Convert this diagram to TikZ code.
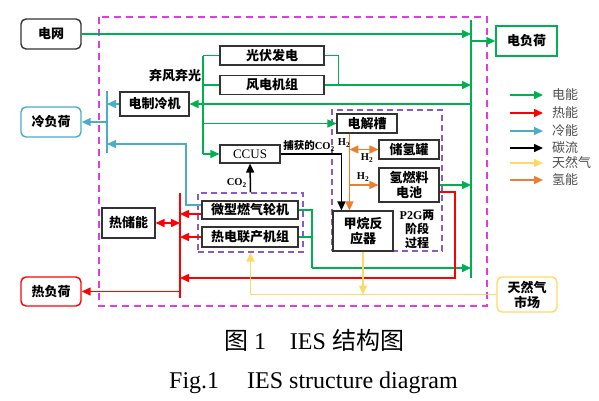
\documentclass[tikz,border=0pt]{standalone}
\usepackage{fontspec}
\setmainfont{Liberation Serif}
\newfontfamily\cjk{Noto Sans CJK SC}
\usetikzlibrary{arrows.meta,calc}
\definecolor{elgreen}{RGB}{0,176,80}
\definecolor{coldblue}{RGB}{75,172,198}
\definecolor{gasyellow}{RGB}{255,217,102}
\definecolor{h2orange}{RGB}{237,125,49}
\definecolor{outerpink}{RGB}{225,60,225}
\definecolor{grppurple}{RGB}{140,90,200}
\tikzset{
	box/.style={draw=black!80, line width=1.1pt, inner sep=1pt, align=center, font=\cjk\bfseries\fontsize{13}{15}\selectfont},
	load/.style={box, rounded corners=5pt, line width=1.4pt},
	grp/.style={draw=grppurple, dashed, dash pattern=on 6pt off 4pt, line width=1.1pt, inner sep=0pt},
	arw/.style={-{Triangle[length=9pt,width=8pt]}},
	arwb/.style={{Triangle[length=9pt,width=8pt]}-{Triangle[length=9pt,width=8pt]}},
	elf/.style={draw=elgreen, line width=1.5pt},
	hf/.style={draw=red, line width=1.5pt},
	cf/.style={draw=coldblue, line width=1.5pt},
	cof/.style={draw=black, line width=1.5pt},
	gf/.style={draw=gasyellow, line width=1.5pt},
	h2f/.style={draw=h2orange, line width=1.5pt},
	lbl/.style={font=\bfseries\fontsize{10.5}{11}\selectfont, inner sep=1pt}
}
\begin{document}
\begin{tikzpicture}[x=1pt, y=-1pt]
	\useasboundingbox (0,0) rectangle (599,400);
	\draw[draw=outerpink, dashed, dash pattern=on 7pt off 5pt, line width=1.3pt] (99,17) rectangle (487,306);
	\node[grp, minimum width=110, minimum height=141] (p2g) at (387,180.5) {};
	\node[grp, minimum width=105, minimum height=59] (gt) at (250.5,222.5) {};

	\node[load, minimum width=60, minimum height=30] (grid) at (51,34) {电网};
	\node[box, draw=elgreen, line width=1.4pt, minimum width=61, minimum height=30] (eload) at (526.5,41) {电负荷};
	\node[load, draw=coldblue, minimum width=60, minimum height=30] (cload) at (51,122) {冷负荷};
	\node[load, draw=red, minimum width=60, minimum height=29] (hload) at (51,291.5) {热负荷};
	\node[load, draw=gasyellow, minimum width=60, minimum height=35] (gasmkt) at (527,294.5) {天然气\\市场};

	\node[box, minimum width=104, minimum height=19] (pv) at (272,55.5) {光伏发电};
	\node[box, minimum width=104, minimum height=19] (wind) at (272,85) {风电机组};
	\node[box, minimum width=69, minimum height=24] (ec) at (154.5,104) {电制冷机};
	\node[box, font=\fontsize{13}{15}\selectfont, minimum width=60, minimum height=18] (ccus) at (250,154) {CCUS};
	\node[box, minimum width=60, minimum height=19] (elec) at (367,123.5) {电解槽};
	\node[box, minimum width=60, minimum height=19] (tank) at (409,149.5) {储氢罐};
	\node[box, minimum width=60, minimum height=34] (fc) at (409,185) {氢燃料\\电池};
	\node[box, minimum width=60, minimum height=40] (meth) at (363,231) {甲烷反\\应器};
	\node[box, minimum width=96, minimum height=18] (mt) at (250,210) {微型燃气轮机};
	\node[box, minimum width=96, minimum height=20] (chp) at (250,237) {热电联产机组};
	\node[box, minimum width=53, minimum height=30] (hs) at (128.5,223) {热储能};

	\node[font=\cjk\bfseries\fontsize{13}{15}\selectfont] (curt) at (175,75) {弃风弃光};
	\node[font=\cjk\bfseries\fontsize{12}{14}\selectfont, align=center] (p2gtxt) at (417,229) {{\rmfamily P2G}两\\阶段\\过程};

	\coordinate (rbt) at (471,20);
	\coordinate (rbb) at (471,278);
	\coordinate (lbt) at (203,55.5);
	\coordinate (lbb) at (203,154);
	\coordinate (cbt) at (107,91);
	\coordinate (cbb) at (107,153);
	\coordinate (hbt) at (180,193);
	\coordinate (hbb) at (180,298);
	\draw[elf] (rbt) -- (rbb);
	\draw[elf] (lbt) -- (lbb);
	\draw[cf] (cbt) -- (cbb);
	\draw[hf] (hbt) -- (hbb);

	\draw[elf, arw] (grid.east) -- (grid.east -| rbt);
	\draw[elf, arw] (eload.west -| rbt) -- (eload.west);
	\draw[elf] (pv.east) -- ++(14,0) |- (wind.east);
	\draw[elf, arw] (wind.east) -- (wind.east -| rbt);
	\draw[elf] (pv.west) -- (lbt);
	\draw[elf] (wind.west) -- (wind.west -| lbt);
	\draw[elf, arw] (ec.east -| rbt) -- (ec.east);
	\draw[elf, arw] (elec.west -| lbt) -- (elec.west);
	\draw[elf, arw] (lbb) -- (ccus.west);
	\coordinate (gj) at (312,268);
	\draw[elf] (mt.east) -| (gj);
	\draw[elf] (chp.east) -- (chp.east -| gj);
	\draw[elf, arw] (gj) -- (gj -| rbt);
	\draw[elf, arw] (fc.east) -- (fc.east -| rbt);

	\draw[hf, arw] ($(mt.west)+(0,4)$) coordinate (mtr) -- (mtr -| hbt);
	\draw[hf, arw] (chp.west) -- (chp.west -| hbt);
	\draw[hf, arwb] (hs.east) -- (hs.east -| hbt);
	\coordinate (hj) at (455,278);
	\draw[hf, arw] ($(fc.east)+(0,7)$) -| (hj) -- (hj -| hbt);
	\draw[hf, arw] (hload.east -| hbt) -- (hload.east);

	\draw[cf, arw] (ec.west) -- (ec.west -| cbt);
	\draw[cf, arw] (cload.east -| cbt) -- (cload.east);
	\coordinate (cj) at (186,144);
	\draw[cf, arw] ($(mt.west)+(0,-5)$) -| (cj) -- (cj -| cbt);

	\draw[cof, arw] (ccus.east) -| ($(meth.north west)+(9,0)$);
	\node[lbl] (capco) at (309,146) {{\cjk 捕获的}CO\textsubscript{2}};
	\draw[cof, arw] (gt.north) -- (ccus.south);
	\node[lbl, anchor=east] (co) at (248,183) {CO\textsubscript{2}};

	\coordinate (h2x) at ($(elec.south west)+(13,0)$);
	\draw[h2f, arw] (h2x) -- (h2x |- meth.north);
	\draw[h2f, arwb] (tank.west -| h2x) -- (tank.west);
	\draw[h2f, arw] (fc.west -| h2x) -- (fc.west);
	\node[lbl] (h2a) at (344,143) {H\textsubscript{2}};
	\node[lbl] (h2b) at (367,158) {H\textsubscript{2}};
	\node[lbl] (h2c) at (363,177) {H\textsubscript{2}};

	\draw[gf, arw] (gasmkt.west) -| (gt.south);
	\draw[gf, arw] (meth.south) -- (meth.south |- gasmkt.west);

	\foreach \y/\c/\t [count=\i] in {95/elgreen/电能, 113/red/热能, 131/coldblue/冷能, 148/black/碳流, 163/gasyellow/天然气, 180/h2orange/氢能}{
		\draw[draw=\c, line width=1.5pt, arw] (510,\y) -- (543,\y);
		\node[anchor=west, font=\cjk\fontsize{13}{15}\selectfont, text=black!70, inner sep=1pt] (leg\i) at (551,\y) {\t};}

	\node[font=\fontsize{24}{26}\selectfont] (cap1) at (314,340) {{\cjk 图} 1\hspace{24pt}IES {\cjk 结构图}};
	\node[font=\fontsize{24}{26}\selectfont] (cap2) at (313.5,383) {Fig.1\hspace{28pt}IES structure diagram};
\end{tikzpicture}
\end{document}
